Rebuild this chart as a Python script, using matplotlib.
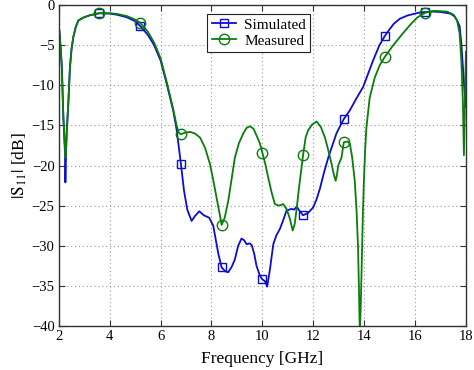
import matplotlib
matplotlib.use('Agg')
import matplotlib.pyplot as plt

# simulated S11
freq_sim = [2.0, 2.02, 2.07, 2.12, 2.18, 2.24, 2.26, 2.29, 2.31, 2.38, 2.44, 2.5, 2.57, 2.67, 2.77,
            3.0, 3.23, 3.6, 4.0, 4.3, 4.67, 5.0, 5.2, 5.5, 5.75, 6.0, 6.25, 6.5, 6.63, 6.8, 6.92,
            7.05, 7.22, 7.35, 7.52, 7.7, 7.91, 8.07, 8.27, 8.4, 8.55, 8.66, 8.8, 8.92, 9.05, 9.18,
            9.28, 9.38, 9.5, 9.58, 9.68, 9.77, 9.9, 10.0, 10.1, 10.19, 10.3, 10.43, 10.55, 10.69,
            10.82, 10.95, 11.15, 11.25, 11.35, 11.45, 11.6, 11.8, 12.0, 12.13, 12.26, 12.42, 12.59,
            12.75, 12.91, 13.05, 13.2, 13.44, 13.7, 13.96, 14.15, 14.35, 14.6, 14.8, 15.0, 15.17,
            15.4, 15.69, 16.0, 16.2, 16.4, 16.7, 17.0, 17.2, 17.39, 17.55, 17.65, 17.75, 17.82,
            17.88, 17.94, 18.0]
s11_sim = [-2.8, -3.1, -5.2, -7.7, -14.0, -18.1, -22.1, -18.0, -16.0, -11.9, -7.7, -5.5, -4.0, -2.7, -1.9,
           -1.5, -1.25, -1.0, -1.05, -1.2, -1.5, -2.0, -2.6, -3.7, -5.0, -6.9, -9.9, -13.2, -15.5, -19.8, -23.1,
           -25.5, -26.9, -26.3, -25.7, -26.2, -26.5, -27.5, -31.0, -32.7, -33.2, -33.3, -32.6, -31.7, -30.0, -29.1,
           -29.3, -29.8, -29.7, -29.9, -31.0, -32.5, -33.7, -34.2, -34.4, -35.1, -32.9, -29.8, -28.7, -27.9,
           -26.8, -25.6, -25.4, -25.5, -25.1, -25.6, -26.2, -25.9, -25.2, -24.2, -22.9, -20.9, -19.0,
           -17.5, -16.0, -15.1, -14.2, -13.1, -11.6, -10.2, -8.6, -6.9, -5.0, -3.9, -3.0, -2.3,
           -1.7, -1.3, -1.05, -0.9, -0.85, -0.8, -0.85, -0.95, -1.05, -1.4, -1.9, -2.6, -4.8,
           -7.7, -10.5, -12.7]

# measured S11
freq_meas = [2.0, 2.02, 2.07, 2.12, 2.18, 2.24, 2.26, 2.29, 2.31, 2.38, 2.44, 2.5, 2.57, 2.67, 2.77,
             3.0, 3.23, 3.6, 4.0, 4.3, 4.67, 5.0, 5.2, 5.5, 5.75, 6.0, 6.25, 6.5, 6.63, 6.72, 6.8,
             6.95, 7.16, 7.35, 7.55, 7.75, 7.94, 8.07, 8.2, 8.32, 8.4, 8.52, 8.66, 8.8, 8.92, 9.08,
             9.25, 9.38, 9.51, 9.65, 9.77, 9.9, 10.0, 10.13, 10.23, 10.36, 10.49, 10.65, 10.82, 10.95,
             11.08, 11.19, 11.27, 11.34, 11.45, 11.6, 11.7, 11.8, 11.95, 12.13, 12.3, 12.46, 12.6,
             12.72, 12.8, 12.88, 12.93, 12.98, 13.11, 13.2, 13.35, 13.44, 13.53, 13.63, 13.7, 13.76,
             13.8, 13.83, 13.87, 13.9, 13.95, 13.99, 14.04, 14.09, 14.22, 14.42, 14.61, 14.8, 15.14,
             15.5, 15.85, 16.1, 16.4, 16.73, 17.0, 17.26, 17.52, 17.65, 17.75, 17.82, 17.88, 17.92,
             17.96, 18.0]
s11_meas = [-2.8, -3.1, -5.2, -7.7, -14.0, -17.5, -19.0, -17.6, -16.0, -11.9, -7.7, -5.5, -4.0, -2.7, -1.9,
            -1.5, -1.25, -1.0, -1.0, -1.1, -1.35, -1.8, -2.2, -3.3, -4.7, -6.6, -9.7, -13.0, -15.0, -15.9, -16.1,
            -15.9, -15.8, -16.0, -16.5, -17.8, -19.8, -21.8, -24.0, -26.0, -27.4, -26.5, -24.4, -21.5, -19.0, -17.2,
            -16.0, -15.3, -15.1, -15.4, -16.25, -17.2, -18.4, -20.0, -21.5, -23.3, -24.8, -25.0, -24.8, -25.4,
            -26.6, -28.1, -27.3, -25.6, -22.5, -18.7, -16.5, -15.6, -14.9, -14.5, -15.2, -16.5, -18.2,
            -19.8, -21.0, -21.9, -21.2, -20.0, -19.0, -17.1, -17.0, -17.3, -19.0, -21.9, -25.5, -30.2,
            -36.0, -41.0, -37.0, -33.0, -26.0, -21.9, -18.0, -15.2, -11.5, -9.0, -7.5, -6.5, -5.0,
            -3.6, -2.3, -1.5, -0.95, -0.7, -0.75, -0.8, -1.2, -1.9, -3.5, -7.0, -12.0, -18.7,
            -12.0, -5.8]

mark_freqs = [3.6, 5.2, 6.8, 8.4, 10.0, 11.6, 13.2, 14.8, 16.4]

plt.rcParams['font.family'] = ['Liberation Serif', 'DejaVu Serif']
plt.rcParams['mathtext.fontset'] = 'stix'

fig = plt.figure(figsize=(4.74, 3.70), dpi=100)
ax = fig.add_axes([0.124, 0.119, 0.859, 0.867])

ax.grid(True, color='#999999', linestyle=(0, (1, 2.5)), linewidth=0.8)
ax.set_axisbelow(True)

blue = '#0c0cd2'
green = '#0a7d0a'
ax.plot(freq_sim, s11_sim, color=blue, lw=1.3, marker='s', ms=6, mfc='none', mew=1.0,
        markevery=[i for i, f in enumerate(freq_sim) if f in mark_freqs], label='Simulated')
ax.plot(freq_meas, s11_meas, color=green, lw=1.3, marker='o', ms=7.5, mfc='none', mew=1.0,
        markevery=[i for i, f in enumerate(freq_meas) if f in mark_freqs], label='Measured')

ax.set_xlim(2, 18)
ax.set_ylim(-40, 0)
ax.set_xticks(range(2, 19, 2))
ax.set_yticks(range(-40, 1, 5))
ax.tick_params(direction='in', top=True, right=True, length=4, width=0.8,
               labelsize=10.5, color='#333333', pad=3)
for sp in ax.spines.values():
    sp.set_linewidth(1.0)
    sp.set_color('#333333')

ax.set_xlabel('Frequency [GHz]', fontsize=12.5, labelpad=6)
ax.set_ylabel(r'$|\mathrm{S}_{11}|$ [dB]', fontsize=12.5, labelpad=2)

leg = ax.legend(loc='upper left', bbox_to_anchor=(0.365, 0.974), borderaxespad=0,
                fontsize=11, fancybox=False, framealpha=1, edgecolor='#222222',
                handlelength=1.6, handletextpad=0.5, labelspacing=0.15, borderpad=0.3)
leg.get_frame().set_linewidth(0.8)

plt.savefig('out.png', dpi=100)
